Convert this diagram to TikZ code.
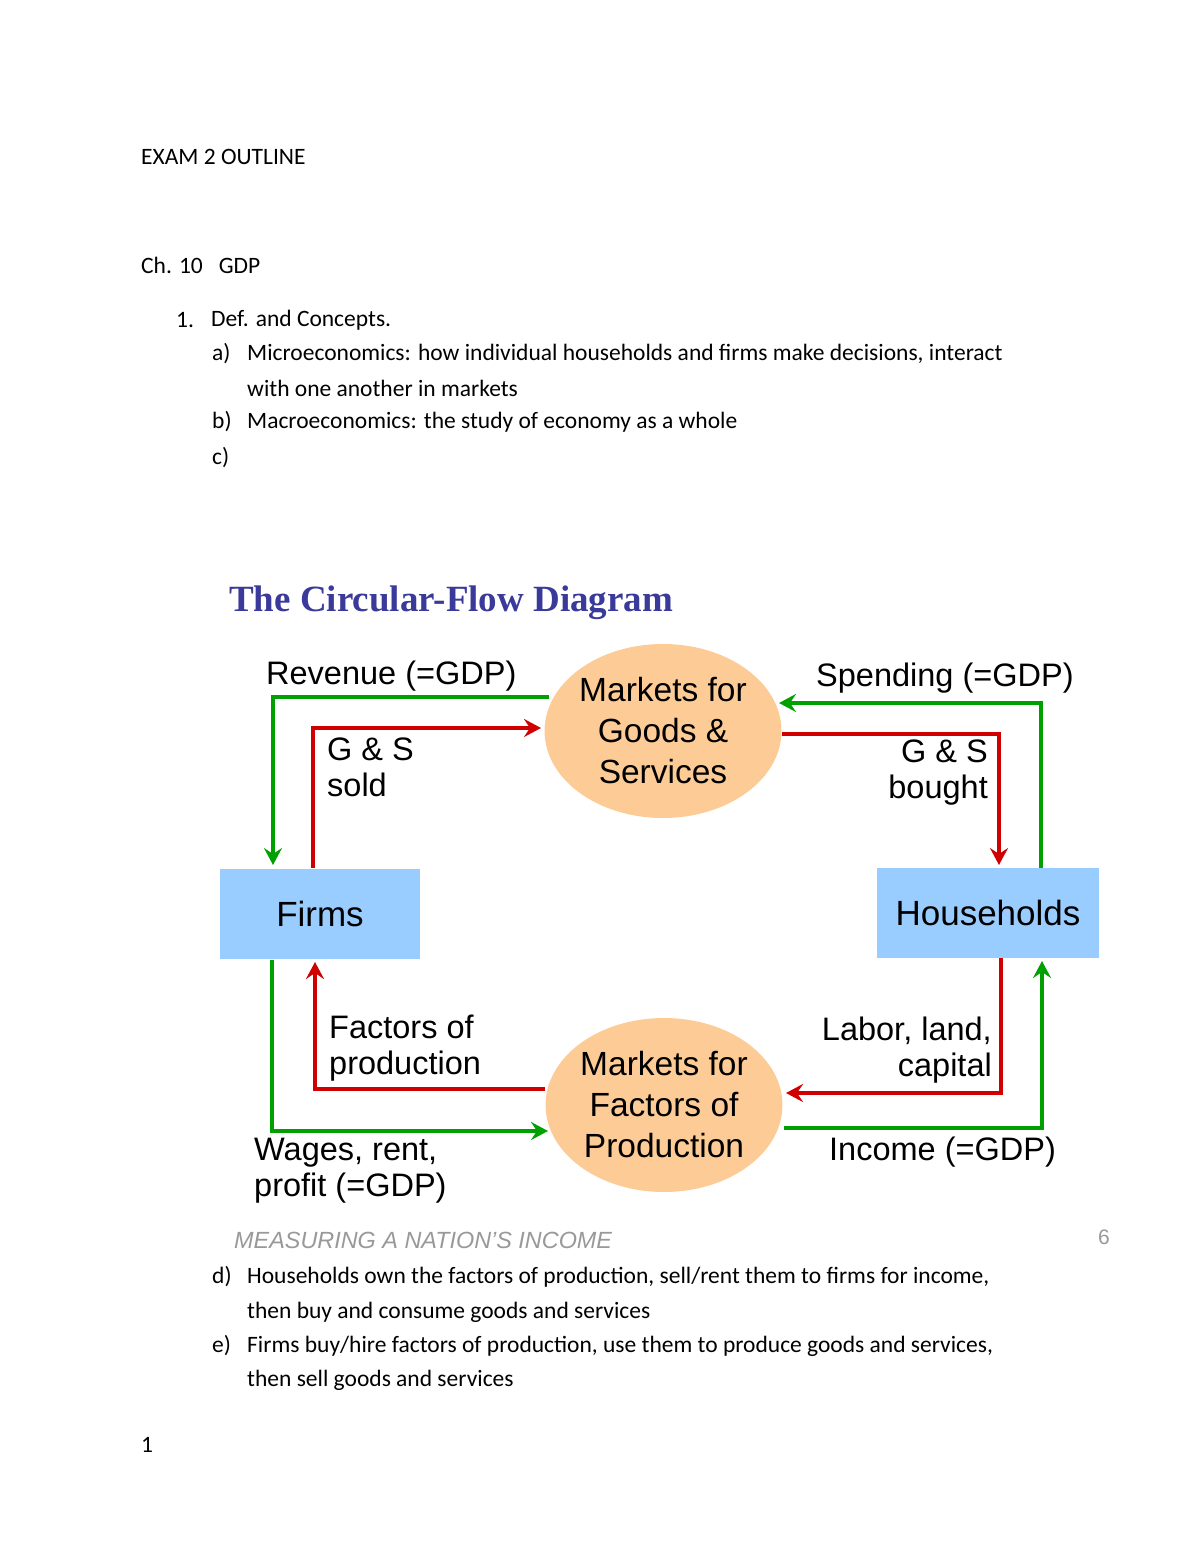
\documentclass[tikz,border=0pt]{standalone}
\usepackage{fontspec}
\setmainfont{Carlito}
\newfontfamily\arialf{Liberation Sans}
\newfontfamily\timesf{Liberation Serif}
\usetikzlibrary{arrows.meta,shapes.geometric}
\definecolor{gr}{HTML}{00A000}
\definecolor{rd}{HTML}{D00000}
\definecolor{peach}{HTML}{FDCC96}
\definecolor{boxb}{HTML}{99CCFF}
\definecolor{ttl}{HTML}{3A3A9A}
\begin{document}
\begin{tikzpicture}[x=1pt,y=-1pt,
 body/.style={anchor=west,inner sep=0pt,font=\fontsize{23.5}{25}\selectfont},
 lab/.style={inner sep=0pt,font=\arialf\fontsize{32.5}{36}\selectfont,align=left},
 flow/.style={line width=4pt,-{Stealth[length=17pt,width=18pt,inset=6pt]}},
 mk/.style={ellipse,fill=peach,minimum width=236pt,minimum height=174pt,inner sep=0pt,align=center,font=\arialf\fontsize{33.5}{41}\selectfont},
 ag/.style={fill=boxb,inner sep=0pt,font=\arialf\fontsize{35}{36}\selectfont}]
\useasboundingbox (0,0) rectangle (1200,1553);
\fill[white] (0,0) rectangle (1200,1553);
\node[body] (t1) at (141,157) {EXAM 2 OUTLINE};
\node[body] (t2) at (141,265) {Ch. 10\ \ \ GDP};
\node[body] (n1) at (176,320) {1.};
\node[body] (t3) at (211,320) {Def. and Concepts.};
\node[body] (la) at (212,354) {a)};
\node[body] (ta) at (247,354) {Microeconomics: how individual households and firms make decisions, interact};
\node[body] (ta2) at (247,388) {with one another in markets};
\node[body] (lb) at (212,422) {b)};
\node[body] (tb) at (247,422) {Macroeconomics: the study of economy as a whole};
\node[body] (lc) at (212,458) {c)};
\node[body] (ld) at (212,1277) {d)};
\node[body] (td) at (247,1277) {Households own the factors of production, sell/rent them to firms for income,};
\node[body] (td2) at (247,1312) {then buy and consume goods and services};
\node[body] (le) at (212,1346) {e)};
\node[body] (te) at (247,1346) {Firms buy/hire factors of production, use them to produce goods and services,};
\node[body] (te2) at (247,1380) {then sell goods and services};
\node[body] (pg) at (141,1445) {1};

\node[anchor=west,inner sep=0pt,text=ttl,font=\timesf\bfseries\fontsize{37}{40}\selectfont] (title) at (229,603) {The Circular-Flow Diagram};

\node[mk] (mg) at (663,731) {Markets for\\Goods \&\\Services};
\node[mk] (mf) at (664,1105) {Markets for\\Factors of\\Production};
\node[ag,minimum width=200pt,minimum height=90pt] (firms) at (320,914) {Firms};
\node[ag,minimum width=222pt,minimum height=90pt] (hh) at (988,913) {Households};

\coordinate (a1) at (549,697); \coordinate (a2) at (273,865);
\draw[flow,gr] (a1) -- (273,697) -- (a2);
\coordinate (b1) at (313,868); \coordinate (b2) at (541,728);
\draw[flow,rd] (b1) -- (313,728) -- (b2);
\coordinate (c1) at (1041,868); \coordinate (c2) at (779,703);
\draw[flow,gr] (c1) -- (1041,703) -- (c2);
\coordinate (d1) at (782,734); \coordinate (d2) at (999,865);
\draw[flow,rd] (d1) -- (999,734) -- (d2);
\coordinate (e1) at (545,1089); \coordinate (e2) at (315,962);
\draw[flow,rd] (e1) -- (315,1089) -- (e2);
\coordinate (f1) at (272,960); \coordinate (f2) at (548,1131);
\draw[flow,gr] (f1) -- (272,1131) -- (f2);
\coordinate (g1) at (1001,958); \coordinate (g2) at (786,1093);
\draw[flow,rd] (g1) -- (1001,1093) -- (g2);
\coordinate (h1) at (784,1128); \coordinate (h2) at (1042,961);
\draw[flow,gr] (h1) -- (1042,1128) -- (h2);

\node[lab,anchor=west] (l1) at (266,676) {Revenue (=GDP)};
\node[lab,anchor=west] (l2) at (816,678) {Spending (=GDP)};
\node[lab,anchor=west] (l3) at (327,767) {G \& S\\sold};
\node[lab,anchor=east,align=right] (l4) at (988,773) {G \& S\\bought};
\node[lab,anchor=west] (l5) at (329,1048) {Factors of\\production};
\node[lab,anchor=east,align=right] (l6) at (992,1050) {Labor, land,\\capital};
\node[lab,anchor=west] (l7) at (254,1171) {Wages, rent,\\profit (=GDP)};
\node[lab,anchor=west] (l8) at (829,1152) {Income (=GDP)};

\node[anchor=west,inner sep=0pt,text=gray!80,font=\arialf\itshape\fontsize{23.4}{26}\selectfont] (ms) at (234,1240) {MEASURING A NATION’S INCOME};
\node[inner sep=0pt,text=gray!80,font=\arialf\fontsize{21}{26}\selectfont] (six) at (1104,1237) {6};
\end{tikzpicture}
\end{document}
